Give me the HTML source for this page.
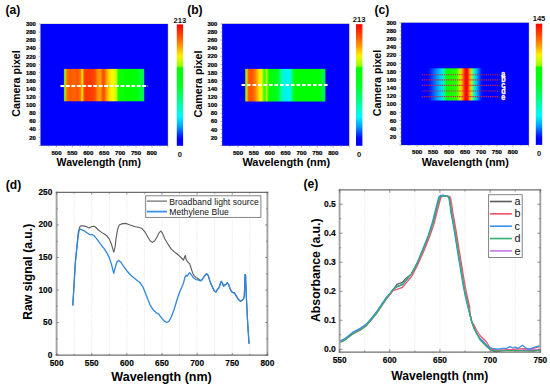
<!DOCTYPE html>
<html><head><meta charset="utf-8"><title>Figure</title><style>
html,body{margin:0;padding:0;background:#fff;width:550px;height:389px;overflow:hidden}
svg{display:block}
text{font-family:"Liberation Sans", sans-serif}
</style></head><body>
<svg width="550" height="389" viewBox="0 0 550 389">
<rect width="550" height="389" fill="#fff"/>
<defs><linearGradient id="cbg" x1="0" y1="0" x2="0" y2="1"><stop offset="0" stop-color="#ff0000"/><stop offset="0.1" stop-color="#ff5000"/><stop offset="0.18" stop-color="#ff9800"/><stop offset="0.256" stop-color="#fff000"/><stop offset="0.3" stop-color="#c8ff00"/><stop offset="0.345" stop-color="#90ff00"/><stop offset="0.36" stop-color="#00ff00"/><stop offset="0.5" stop-color="#00ff20"/><stop offset="0.58" stop-color="#00ff60"/><stop offset="0.67" stop-color="#00ffb0"/><stop offset="0.76" stop-color="#00f8ff"/><stop offset="0.84" stop-color="#00a0ff"/><stop offset="0.92" stop-color="#0020ff"/><stop offset="0.95" stop-color="#0000ff"/><stop offset="1" stop-color="#0000ff"/></linearGradient><linearGradient id="pa" x1="0" y1="0" x2="1" y2="0"><stop offset="0.0" stop-color="#40e800"/><stop offset="0.0162" stop-color="#a0f000"/><stop offset="0.0262" stop-color="#ff9a00"/><stop offset="0.0448" stop-color="#ff6c00"/><stop offset="0.076" stop-color="#ff5800"/><stop offset="0.1258" stop-color="#ff6400"/><stop offset="0.1756" stop-color="#ff5400"/><stop offset="0.2105" stop-color="#ff8000"/><stop offset="0.2204" stop-color="#ffc800"/><stop offset="0.2304" stop-color="#ffdc00"/><stop offset="0.2403" stop-color="#ffa000"/><stop offset="0.2503" stop-color="#ff4800"/><stop offset="0.2752" stop-color="#ff3400"/><stop offset="0.3499" stop-color="#ff3c00"/><stop offset="0.3873" stop-color="#ff4c00"/><stop offset="0.4184" stop-color="#ff8800"/><stop offset="0.4433" stop-color="#ffa000"/><stop offset="0.462" stop-color="#ff8c00"/><stop offset="0.4832" stop-color="#ff5400"/><stop offset="0.4994" stop-color="#ff4c00"/><stop offset="0.5243" stop-color="#ff9000"/><stop offset="0.5554" stop-color="#ffd000"/><stop offset="0.5866" stop-color="#fff000"/><stop offset="0.6177" stop-color="#f0ff00"/><stop offset="0.6526" stop-color="#c8ff00"/><stop offset="0.6638" stop-color="#80ff00"/><stop offset="0.6762" stop-color="#10ff00"/><stop offset="0.8232" stop-color="#00ff00"/><stop offset="0.9228" stop-color="#00ff10"/><stop offset="0.9601" stop-color="#00ff40"/><stop offset="1.0" stop-color="#00f060"/></linearGradient><linearGradient id="pb" x1="0" y1="0" x2="1" y2="0"><stop offset="0.0" stop-color="#40e000"/><stop offset="0.0149" stop-color="#a0f000"/><stop offset="0.0262" stop-color="#ffb000"/><stop offset="0.0423" stop-color="#ff6000"/><stop offset="0.0735" stop-color="#ff5000"/><stop offset="0.1108" stop-color="#ff6a00"/><stop offset="0.1357" stop-color="#ff9000"/><stop offset="0.1606" stop-color="#ffc800"/><stop offset="0.1856" stop-color="#ffee00"/><stop offset="0.2105" stop-color="#e0ff00"/><stop offset="0.2291" stop-color="#60ff00"/><stop offset="0.2478" stop-color="#30ff00"/><stop offset="0.2665" stop-color="#b0ff00"/><stop offset="0.2827" stop-color="#60ff00"/><stop offset="0.2976" stop-color="#00ff00"/><stop offset="0.4097" stop-color="#00ff20"/><stop offset="0.4408" stop-color="#00ff90"/><stop offset="0.472" stop-color="#00f8d0"/><stop offset="0.5093" stop-color="#00f0f0"/><stop offset="0.5529" stop-color="#00f4f8"/><stop offset="0.5741" stop-color="#00ffb0"/><stop offset="0.5965" stop-color="#00ff30"/><stop offset="0.6214" stop-color="#00ff00"/><stop offset="0.9203" stop-color="#00ff00"/><stop offset="0.9577" stop-color="#00ff30"/><stop offset="1.0" stop-color="#00f050"/></linearGradient><linearGradient id="pc" x1="0" y1="0" x2="1" y2="0"><stop offset="0.0" stop-color="#0000ff"/><stop offset="0.037" stop-color="#0018ff"/><stop offset="0.0926" stop-color="#0050ff"/><stop offset="0.1574" stop-color="#0090ff"/><stop offset="0.213" stop-color="#00c0ff"/><stop offset="0.2593" stop-color="#00e0f8"/><stop offset="0.287" stop-color="#00f0e0"/><stop offset="0.3056" stop-color="#00ff50"/><stop offset="0.3296" stop-color="#00ff00"/><stop offset="0.5463" stop-color="#30ff00"/><stop offset="0.5778" stop-color="#a0ff00"/><stop offset="0.6074" stop-color="#f8f000"/><stop offset="0.6333" stop-color="#ffa000"/><stop offset="0.6574" stop-color="#ff3000"/><stop offset="0.6815" stop-color="#ff0000"/><stop offset="0.75" stop-color="#ff0800"/><stop offset="0.7704" stop-color="#ff6000"/><stop offset="0.7889" stop-color="#ffd800"/><stop offset="0.8074" stop-color="#80ff00"/><stop offset="0.8333" stop-color="#00ff50"/><stop offset="0.8611" stop-color="#00f0e0"/><stop offset="0.8981" stop-color="#00c0ff"/><stop offset="0.9352" stop-color="#0070ff"/><stop offset="0.9722" stop-color="#0020ff"/><stop offset="1.0" stop-color="#0000ff"/></linearGradient><filter id="bl" x="-0.1" y="-0.2" width="1.2" height="1.4"><feGaussianBlur stdDeviation="0.45"/></filter><filter id="bl2" x="-0.1" y="-0.2" width="1.2" height="1.4"><feGaussianBlur stdDeviation="0.9 0.6"/></filter></defs>
<line x1="38.7" y1="145.6" x2="40.6" y2="145.6" stroke="#666" stroke-width="0.5"/>
<line x1="39.4" y1="141.55" x2="40.6" y2="141.55" stroke="#666" stroke-width="0.5"/>
<line x1="38.7" y1="137.49" x2="40.6" y2="137.49" stroke="#666" stroke-width="0.5"/>
<line x1="39.4" y1="133.44" x2="40.6" y2="133.44" stroke="#666" stroke-width="0.5"/>
<line x1="38.7" y1="129.39" x2="40.6" y2="129.39" stroke="#666" stroke-width="0.5"/>
<line x1="39.4" y1="125.33" x2="40.6" y2="125.33" stroke="#666" stroke-width="0.5"/>
<line x1="38.7" y1="121.28" x2="40.6" y2="121.28" stroke="#666" stroke-width="0.5"/>
<line x1="39.4" y1="117.23" x2="40.6" y2="117.23" stroke="#666" stroke-width="0.5"/>
<line x1="38.7" y1="113.17" x2="40.6" y2="113.17" stroke="#666" stroke-width="0.5"/>
<line x1="39.4" y1="109.12" x2="40.6" y2="109.12" stroke="#666" stroke-width="0.5"/>
<line x1="38.7" y1="105.07" x2="40.6" y2="105.07" stroke="#666" stroke-width="0.5"/>
<line x1="39.4" y1="101.01" x2="40.6" y2="101.01" stroke="#666" stroke-width="0.5"/>
<line x1="38.7" y1="96.96" x2="40.6" y2="96.96" stroke="#666" stroke-width="0.5"/>
<line x1="39.4" y1="92.91" x2="40.6" y2="92.91" stroke="#666" stroke-width="0.5"/>
<line x1="38.7" y1="88.85" x2="40.6" y2="88.85" stroke="#666" stroke-width="0.5"/>
<line x1="39.4" y1="84.8" x2="40.6" y2="84.8" stroke="#666" stroke-width="0.5"/>
<line x1="38.7" y1="80.75" x2="40.6" y2="80.75" stroke="#666" stroke-width="0.5"/>
<line x1="39.4" y1="76.69" x2="40.6" y2="76.69" stroke="#666" stroke-width="0.5"/>
<line x1="38.7" y1="72.64" x2="40.6" y2="72.64" stroke="#666" stroke-width="0.5"/>
<line x1="39.4" y1="68.59" x2="40.6" y2="68.59" stroke="#666" stroke-width="0.5"/>
<line x1="38.7" y1="64.53" x2="40.6" y2="64.53" stroke="#666" stroke-width="0.5"/>
<line x1="39.4" y1="60.48" x2="40.6" y2="60.48" stroke="#666" stroke-width="0.5"/>
<line x1="38.7" y1="56.43" x2="40.6" y2="56.43" stroke="#666" stroke-width="0.5"/>
<line x1="39.4" y1="52.37" x2="40.6" y2="52.37" stroke="#666" stroke-width="0.5"/>
<line x1="38.7" y1="48.32" x2="40.6" y2="48.32" stroke="#666" stroke-width="0.5"/>
<line x1="39.4" y1="44.27" x2="40.6" y2="44.27" stroke="#666" stroke-width="0.5"/>
<line x1="38.7" y1="40.21" x2="40.6" y2="40.21" stroke="#666" stroke-width="0.5"/>
<line x1="39.4" y1="36.16" x2="40.6" y2="36.16" stroke="#666" stroke-width="0.5"/>
<line x1="38.7" y1="32.11" x2="40.6" y2="32.11" stroke="#666" stroke-width="0.5"/>
<line x1="39.4" y1="28.05" x2="40.6" y2="28.05" stroke="#666" stroke-width="0.5"/>
<line x1="38.7" y1="24" x2="40.6" y2="24" stroke="#666" stroke-width="0.5"/>
<line x1="48.55" y1="145.6" x2="48.55" y2="146.8" stroke="#666" stroke-width="0.5"/>
<line x1="56.5" y1="145.6" x2="56.5" y2="147.5" stroke="#666" stroke-width="0.5"/>
<line x1="64.45" y1="145.6" x2="64.45" y2="146.8" stroke="#666" stroke-width="0.5"/>
<line x1="72.4" y1="145.6" x2="72.4" y2="147.5" stroke="#666" stroke-width="0.5"/>
<line x1="80.35" y1="145.6" x2="80.35" y2="146.8" stroke="#666" stroke-width="0.5"/>
<line x1="88.3" y1="145.6" x2="88.3" y2="147.5" stroke="#666" stroke-width="0.5"/>
<line x1="96.25" y1="145.6" x2="96.25" y2="146.8" stroke="#666" stroke-width="0.5"/>
<line x1="104.2" y1="145.6" x2="104.2" y2="147.5" stroke="#666" stroke-width="0.5"/>
<line x1="112.15" y1="145.6" x2="112.15" y2="146.8" stroke="#666" stroke-width="0.5"/>
<line x1="120.1" y1="145.6" x2="120.1" y2="147.5" stroke="#666" stroke-width="0.5"/>
<line x1="128.05" y1="145.6" x2="128.05" y2="146.8" stroke="#666" stroke-width="0.5"/>
<line x1="136" y1="145.6" x2="136" y2="147.5" stroke="#666" stroke-width="0.5"/>
<line x1="143.95" y1="145.6" x2="143.95" y2="146.8" stroke="#666" stroke-width="0.5"/>
<line x1="151.9" y1="145.6" x2="151.9" y2="147.5" stroke="#666" stroke-width="0.5"/>
<line x1="159.85" y1="145.6" x2="159.85" y2="146.8" stroke="#666" stroke-width="0.5"/>
<line x1="167.8" y1="145.6" x2="167.8" y2="147.5" stroke="#666" stroke-width="0.5"/>
<rect x="40.2" y="23.6" width="128" height="122.4" fill="#b9b9a8"/>
<rect x="40.6" y="24" width="127.2" height="121.6" fill="#0000fe"/>
<text x="35.8" y="139.59" text-anchor="end" font-size="5.9" font-weight="bold" fill="#000" stroke="#000" stroke-width="0.22">20</text>
<text x="35.8" y="131.49" text-anchor="end" font-size="5.9" font-weight="bold" fill="#000" stroke="#000" stroke-width="0.22">40</text>
<text x="35.8" y="123.38" text-anchor="end" font-size="5.9" font-weight="bold" fill="#000" stroke="#000" stroke-width="0.22">60</text>
<text x="35.8" y="115.27" text-anchor="end" font-size="5.9" font-weight="bold" fill="#000" stroke="#000" stroke-width="0.22">80</text>
<text x="35.8" y="107.17" text-anchor="end" font-size="5.9" font-weight="bold" fill="#000" stroke="#000" stroke-width="0.22">100</text>
<text x="35.8" y="99.06" text-anchor="end" font-size="5.9" font-weight="bold" fill="#000" stroke="#000" stroke-width="0.22">120</text>
<text x="35.8" y="90.95" text-anchor="end" font-size="5.9" font-weight="bold" fill="#000" stroke="#000" stroke-width="0.22">140</text>
<text x="35.8" y="82.85" text-anchor="end" font-size="5.9" font-weight="bold" fill="#000" stroke="#000" stroke-width="0.22">160</text>
<text x="35.8" y="74.74" text-anchor="end" font-size="5.9" font-weight="bold" fill="#000" stroke="#000" stroke-width="0.22">180</text>
<text x="35.8" y="66.63" text-anchor="end" font-size="5.9" font-weight="bold" fill="#000" stroke="#000" stroke-width="0.22">200</text>
<text x="35.8" y="58.53" text-anchor="end" font-size="5.9" font-weight="bold" fill="#000" stroke="#000" stroke-width="0.22">220</text>
<text x="35.8" y="50.42" text-anchor="end" font-size="5.9" font-weight="bold" fill="#000" stroke="#000" stroke-width="0.22">240</text>
<text x="35.8" y="42.31" text-anchor="end" font-size="5.9" font-weight="bold" fill="#000" stroke="#000" stroke-width="0.22">260</text>
<text x="35.8" y="34.21" text-anchor="end" font-size="5.9" font-weight="bold" fill="#000" stroke="#000" stroke-width="0.22">280</text>
<text x="35.8" y="26.1" text-anchor="end" font-size="5.9" font-weight="bold" fill="#000" stroke="#000" stroke-width="0.22">300</text>
<text x="56.5" y="154.7" text-anchor="middle" font-size="6.1" font-weight="bold" fill="#000" stroke="#000" stroke-width="0.22">500</text>
<text x="72.4" y="154.7" text-anchor="middle" font-size="6.1" font-weight="bold" fill="#000" stroke="#000" stroke-width="0.22">550</text>
<text x="88.3" y="154.7" text-anchor="middle" font-size="6.1" font-weight="bold" fill="#000" stroke="#000" stroke-width="0.22">600</text>
<text x="104.2" y="154.7" text-anchor="middle" font-size="6.1" font-weight="bold" fill="#000" stroke="#000" stroke-width="0.22">650</text>
<text x="120.1" y="154.7" text-anchor="middle" font-size="6.1" font-weight="bold" fill="#000" stroke="#000" stroke-width="0.22">700</text>
<text x="136" y="154.7" text-anchor="middle" font-size="6.1" font-weight="bold" fill="#000" stroke="#000" stroke-width="0.22">750</text>
<text x="151.9" y="154.7" text-anchor="middle" font-size="6.1" font-weight="bold" fill="#000" stroke="#000" stroke-width="0.22">800</text>
<text x="56.6" y="165.7" font-size="10.2" font-weight="bold" fill="#000" textLength="84.4" lengthAdjust="spacingAndGlyphs">Wavelength (nm)</text>
<text transform="translate(20.4,83.5) rotate(-90)" text-anchor="middle" font-size="10.7" font-weight="bold" fill="#000" textLength="66.5" lengthAdjust="spacingAndGlyphs">Camera pixel</text>
<text x="5.6" y="14" font-size="12.1" font-weight="bold" fill="#000">(a)</text>
<rect x="176.8" y="24.4" width="6.3" height="121.4" fill="url(#cbg)"/>
<text x="179.95" y="22.6" text-anchor="middle" font-size="7.6" font-weight="bold" fill="#111">213</text>
<text x="179.95" y="157" text-anchor="middle" font-size="7.6" font-weight="bold" fill="#111">0</text>
<line x1="220.3" y1="145.7" x2="222.2" y2="145.7" stroke="#666" stroke-width="0.5"/>
<line x1="221" y1="141.64" x2="222.2" y2="141.64" stroke="#666" stroke-width="0.5"/>
<line x1="220.3" y1="137.58" x2="222.2" y2="137.58" stroke="#666" stroke-width="0.5"/>
<line x1="221" y1="133.52" x2="222.2" y2="133.52" stroke="#666" stroke-width="0.5"/>
<line x1="220.3" y1="129.46" x2="222.2" y2="129.46" stroke="#666" stroke-width="0.5"/>
<line x1="221" y1="125.4" x2="222.2" y2="125.4" stroke="#666" stroke-width="0.5"/>
<line x1="220.3" y1="121.34" x2="222.2" y2="121.34" stroke="#666" stroke-width="0.5"/>
<line x1="221" y1="117.28" x2="222.2" y2="117.28" stroke="#666" stroke-width="0.5"/>
<line x1="220.3" y1="113.22" x2="222.2" y2="113.22" stroke="#666" stroke-width="0.5"/>
<line x1="221" y1="109.16" x2="222.2" y2="109.16" stroke="#666" stroke-width="0.5"/>
<line x1="220.3" y1="105.1" x2="222.2" y2="105.1" stroke="#666" stroke-width="0.5"/>
<line x1="221" y1="101.04" x2="222.2" y2="101.04" stroke="#666" stroke-width="0.5"/>
<line x1="220.3" y1="96.98" x2="222.2" y2="96.98" stroke="#666" stroke-width="0.5"/>
<line x1="221" y1="92.92" x2="222.2" y2="92.92" stroke="#666" stroke-width="0.5"/>
<line x1="220.3" y1="88.86" x2="222.2" y2="88.86" stroke="#666" stroke-width="0.5"/>
<line x1="221" y1="84.8" x2="222.2" y2="84.8" stroke="#666" stroke-width="0.5"/>
<line x1="220.3" y1="80.74" x2="222.2" y2="80.74" stroke="#666" stroke-width="0.5"/>
<line x1="221" y1="76.68" x2="222.2" y2="76.68" stroke="#666" stroke-width="0.5"/>
<line x1="220.3" y1="72.62" x2="222.2" y2="72.62" stroke="#666" stroke-width="0.5"/>
<line x1="221" y1="68.56" x2="222.2" y2="68.56" stroke="#666" stroke-width="0.5"/>
<line x1="220.3" y1="64.5" x2="222.2" y2="64.5" stroke="#666" stroke-width="0.5"/>
<line x1="221" y1="60.44" x2="222.2" y2="60.44" stroke="#666" stroke-width="0.5"/>
<line x1="220.3" y1="56.38" x2="222.2" y2="56.38" stroke="#666" stroke-width="0.5"/>
<line x1="221" y1="52.32" x2="222.2" y2="52.32" stroke="#666" stroke-width="0.5"/>
<line x1="220.3" y1="48.26" x2="222.2" y2="48.26" stroke="#666" stroke-width="0.5"/>
<line x1="221" y1="44.2" x2="222.2" y2="44.2" stroke="#666" stroke-width="0.5"/>
<line x1="220.3" y1="40.14" x2="222.2" y2="40.14" stroke="#666" stroke-width="0.5"/>
<line x1="221" y1="36.08" x2="222.2" y2="36.08" stroke="#666" stroke-width="0.5"/>
<line x1="220.3" y1="32.02" x2="222.2" y2="32.02" stroke="#666" stroke-width="0.5"/>
<line x1="221" y1="27.96" x2="222.2" y2="27.96" stroke="#666" stroke-width="0.5"/>
<line x1="220.3" y1="23.9" x2="222.2" y2="23.9" stroke="#666" stroke-width="0.5"/>
<line x1="230.13" y1="145.7" x2="230.13" y2="146.9" stroke="#666" stroke-width="0.5"/>
<line x1="238.06" y1="145.7" x2="238.06" y2="147.6" stroke="#666" stroke-width="0.5"/>
<line x1="245.99" y1="145.7" x2="245.99" y2="146.9" stroke="#666" stroke-width="0.5"/>
<line x1="253.93" y1="145.7" x2="253.93" y2="147.6" stroke="#666" stroke-width="0.5"/>
<line x1="261.86" y1="145.7" x2="261.86" y2="146.9" stroke="#666" stroke-width="0.5"/>
<line x1="269.79" y1="145.7" x2="269.79" y2="147.6" stroke="#666" stroke-width="0.5"/>
<line x1="277.72" y1="145.7" x2="277.72" y2="146.9" stroke="#666" stroke-width="0.5"/>
<line x1="285.65" y1="145.7" x2="285.65" y2="147.6" stroke="#666" stroke-width="0.5"/>
<line x1="293.58" y1="145.7" x2="293.58" y2="146.9" stroke="#666" stroke-width="0.5"/>
<line x1="301.51" y1="145.7" x2="301.51" y2="147.6" stroke="#666" stroke-width="0.5"/>
<line x1="309.44" y1="145.7" x2="309.44" y2="146.9" stroke="#666" stroke-width="0.5"/>
<line x1="317.38" y1="145.7" x2="317.38" y2="147.6" stroke="#666" stroke-width="0.5"/>
<line x1="325.31" y1="145.7" x2="325.31" y2="146.9" stroke="#666" stroke-width="0.5"/>
<line x1="333.24" y1="145.7" x2="333.24" y2="147.6" stroke="#666" stroke-width="0.5"/>
<line x1="341.17" y1="145.7" x2="341.17" y2="146.9" stroke="#666" stroke-width="0.5"/>
<line x1="349.1" y1="145.7" x2="349.1" y2="147.6" stroke="#666" stroke-width="0.5"/>
<rect x="221.8" y="23.5" width="127.7" height="122.6" fill="#b9b9a8"/>
<rect x="222.2" y="23.9" width="126.9" height="121.8" fill="#0000fe"/>
<text x="217.4" y="139.68" text-anchor="end" font-size="5.9" font-weight="bold" fill="#000" stroke="#000" stroke-width="0.22">20</text>
<text x="217.4" y="131.56" text-anchor="end" font-size="5.9" font-weight="bold" fill="#000" stroke="#000" stroke-width="0.22">40</text>
<text x="217.4" y="123.44" text-anchor="end" font-size="5.9" font-weight="bold" fill="#000" stroke="#000" stroke-width="0.22">60</text>
<text x="217.4" y="115.32" text-anchor="end" font-size="5.9" font-weight="bold" fill="#000" stroke="#000" stroke-width="0.22">80</text>
<text x="217.4" y="107.2" text-anchor="end" font-size="5.9" font-weight="bold" fill="#000" stroke="#000" stroke-width="0.22">100</text>
<text x="217.4" y="99.08" text-anchor="end" font-size="5.9" font-weight="bold" fill="#000" stroke="#000" stroke-width="0.22">120</text>
<text x="217.4" y="90.96" text-anchor="end" font-size="5.9" font-weight="bold" fill="#000" stroke="#000" stroke-width="0.22">140</text>
<text x="217.4" y="82.84" text-anchor="end" font-size="5.9" font-weight="bold" fill="#000" stroke="#000" stroke-width="0.22">160</text>
<text x="217.4" y="74.72" text-anchor="end" font-size="5.9" font-weight="bold" fill="#000" stroke="#000" stroke-width="0.22">180</text>
<text x="217.4" y="66.6" text-anchor="end" font-size="5.9" font-weight="bold" fill="#000" stroke="#000" stroke-width="0.22">200</text>
<text x="217.4" y="58.48" text-anchor="end" font-size="5.9" font-weight="bold" fill="#000" stroke="#000" stroke-width="0.22">220</text>
<text x="217.4" y="50.36" text-anchor="end" font-size="5.9" font-weight="bold" fill="#000" stroke="#000" stroke-width="0.22">240</text>
<text x="217.4" y="42.24" text-anchor="end" font-size="5.9" font-weight="bold" fill="#000" stroke="#000" stroke-width="0.22">260</text>
<text x="217.4" y="34.12" text-anchor="end" font-size="5.9" font-weight="bold" fill="#000" stroke="#000" stroke-width="0.22">280</text>
<text x="217.4" y="26" text-anchor="end" font-size="5.9" font-weight="bold" fill="#000" stroke="#000" stroke-width="0.22">300</text>
<text x="238.06" y="154.8" text-anchor="middle" font-size="6.1" font-weight="bold" fill="#000" stroke="#000" stroke-width="0.22">500</text>
<text x="253.93" y="154.8" text-anchor="middle" font-size="6.1" font-weight="bold" fill="#000" stroke="#000" stroke-width="0.22">550</text>
<text x="269.79" y="154.8" text-anchor="middle" font-size="6.1" font-weight="bold" fill="#000" stroke="#000" stroke-width="0.22">600</text>
<text x="285.65" y="154.8" text-anchor="middle" font-size="6.1" font-weight="bold" fill="#000" stroke="#000" stroke-width="0.22">650</text>
<text x="301.51" y="154.8" text-anchor="middle" font-size="6.1" font-weight="bold" fill="#000" stroke="#000" stroke-width="0.22">700</text>
<text x="317.38" y="154.8" text-anchor="middle" font-size="6.1" font-weight="bold" fill="#000" stroke="#000" stroke-width="0.22">750</text>
<text x="333.24" y="154.8" text-anchor="middle" font-size="6.1" font-weight="bold" fill="#000" stroke="#000" stroke-width="0.22">800</text>
<text x="242.4" y="166.4" font-size="10.2" font-weight="bold" fill="#000" textLength="87.8" lengthAdjust="spacingAndGlyphs">Wavelength (nm)</text>
<text transform="translate(201.6,84) rotate(-90)" text-anchor="middle" font-size="10.7" font-weight="bold" fill="#000" textLength="67.0" lengthAdjust="spacingAndGlyphs">Camera pixel</text>
<text x="187.2" y="13.9" font-size="12.1" font-weight="bold" fill="#000">(b)</text>
<rect x="356" y="24.2" width="6.4" height="121.6" fill="url(#cbg)"/>
<text x="359.2" y="22" text-anchor="middle" font-size="7.6" font-weight="bold" fill="#111">213</text>
<text x="359.2" y="157" text-anchor="middle" font-size="7.6" font-weight="bold" fill="#111">0</text>
<line x1="399.3" y1="145" x2="401.2" y2="145" stroke="#666" stroke-width="0.5"/>
<line x1="400" y1="140.93" x2="401.2" y2="140.93" stroke="#666" stroke-width="0.5"/>
<line x1="399.3" y1="136.85" x2="401.2" y2="136.85" stroke="#666" stroke-width="0.5"/>
<line x1="400" y1="132.78" x2="401.2" y2="132.78" stroke="#666" stroke-width="0.5"/>
<line x1="399.3" y1="128.71" x2="401.2" y2="128.71" stroke="#666" stroke-width="0.5"/>
<line x1="400" y1="124.63" x2="401.2" y2="124.63" stroke="#666" stroke-width="0.5"/>
<line x1="399.3" y1="120.56" x2="401.2" y2="120.56" stroke="#666" stroke-width="0.5"/>
<line x1="400" y1="116.49" x2="401.2" y2="116.49" stroke="#666" stroke-width="0.5"/>
<line x1="399.3" y1="112.41" x2="401.2" y2="112.41" stroke="#666" stroke-width="0.5"/>
<line x1="400" y1="108.34" x2="401.2" y2="108.34" stroke="#666" stroke-width="0.5"/>
<line x1="399.3" y1="104.27" x2="401.2" y2="104.27" stroke="#666" stroke-width="0.5"/>
<line x1="400" y1="100.19" x2="401.2" y2="100.19" stroke="#666" stroke-width="0.5"/>
<line x1="399.3" y1="96.12" x2="401.2" y2="96.12" stroke="#666" stroke-width="0.5"/>
<line x1="400" y1="92.05" x2="401.2" y2="92.05" stroke="#666" stroke-width="0.5"/>
<line x1="399.3" y1="87.97" x2="401.2" y2="87.97" stroke="#666" stroke-width="0.5"/>
<line x1="400" y1="83.9" x2="401.2" y2="83.9" stroke="#666" stroke-width="0.5"/>
<line x1="399.3" y1="79.83" x2="401.2" y2="79.83" stroke="#666" stroke-width="0.5"/>
<line x1="400" y1="75.75" x2="401.2" y2="75.75" stroke="#666" stroke-width="0.5"/>
<line x1="399.3" y1="71.68" x2="401.2" y2="71.68" stroke="#666" stroke-width="0.5"/>
<line x1="400" y1="67.61" x2="401.2" y2="67.61" stroke="#666" stroke-width="0.5"/>
<line x1="399.3" y1="63.53" x2="401.2" y2="63.53" stroke="#666" stroke-width="0.5"/>
<line x1="400" y1="59.46" x2="401.2" y2="59.46" stroke="#666" stroke-width="0.5"/>
<line x1="399.3" y1="55.39" x2="401.2" y2="55.39" stroke="#666" stroke-width="0.5"/>
<line x1="400" y1="51.31" x2="401.2" y2="51.31" stroke="#666" stroke-width="0.5"/>
<line x1="399.3" y1="47.24" x2="401.2" y2="47.24" stroke="#666" stroke-width="0.5"/>
<line x1="400" y1="43.17" x2="401.2" y2="43.17" stroke="#666" stroke-width="0.5"/>
<line x1="399.3" y1="39.09" x2="401.2" y2="39.09" stroke="#666" stroke-width="0.5"/>
<line x1="400" y1="35.02" x2="401.2" y2="35.02" stroke="#666" stroke-width="0.5"/>
<line x1="399.3" y1="30.95" x2="401.2" y2="30.95" stroke="#666" stroke-width="0.5"/>
<line x1="400" y1="26.87" x2="401.2" y2="26.87" stroke="#666" stroke-width="0.5"/>
<line x1="399.3" y1="22.8" x2="401.2" y2="22.8" stroke="#666" stroke-width="0.5"/>
<line x1="409.18" y1="145" x2="409.18" y2="146.2" stroke="#666" stroke-width="0.5"/>
<line x1="417.15" y1="145" x2="417.15" y2="146.9" stroke="#666" stroke-width="0.5"/>
<line x1="425.12" y1="145" x2="425.12" y2="146.2" stroke="#666" stroke-width="0.5"/>
<line x1="433.1" y1="145" x2="433.1" y2="146.9" stroke="#666" stroke-width="0.5"/>
<line x1="441.07" y1="145" x2="441.07" y2="146.2" stroke="#666" stroke-width="0.5"/>
<line x1="449.05" y1="145" x2="449.05" y2="146.9" stroke="#666" stroke-width="0.5"/>
<line x1="457.02" y1="145" x2="457.02" y2="146.2" stroke="#666" stroke-width="0.5"/>
<line x1="465" y1="145" x2="465" y2="146.9" stroke="#666" stroke-width="0.5"/>
<line x1="472.97" y1="145" x2="472.97" y2="146.2" stroke="#666" stroke-width="0.5"/>
<line x1="480.95" y1="145" x2="480.95" y2="146.9" stroke="#666" stroke-width="0.5"/>
<line x1="488.92" y1="145" x2="488.92" y2="146.2" stroke="#666" stroke-width="0.5"/>
<line x1="496.9" y1="145" x2="496.9" y2="146.9" stroke="#666" stroke-width="0.5"/>
<line x1="504.87" y1="145" x2="504.87" y2="146.2" stroke="#666" stroke-width="0.5"/>
<line x1="512.85" y1="145" x2="512.85" y2="146.9" stroke="#666" stroke-width="0.5"/>
<line x1="520.82" y1="145" x2="520.82" y2="146.2" stroke="#666" stroke-width="0.5"/>
<line x1="528.8" y1="145" x2="528.8" y2="146.9" stroke="#666" stroke-width="0.5"/>
<rect x="400.8" y="22.4" width="128.4" height="123" fill="#b9b9a8"/>
<rect x="401.2" y="22.8" width="127.6" height="122.2" fill="#0000fe"/>
<text x="396.4" y="138.95" text-anchor="end" font-size="5.9" font-weight="bold" fill="#000" stroke="#000" stroke-width="0.22">20</text>
<text x="396.4" y="130.81" text-anchor="end" font-size="5.9" font-weight="bold" fill="#000" stroke="#000" stroke-width="0.22">40</text>
<text x="396.4" y="122.66" text-anchor="end" font-size="5.9" font-weight="bold" fill="#000" stroke="#000" stroke-width="0.22">60</text>
<text x="396.4" y="114.51" text-anchor="end" font-size="5.9" font-weight="bold" fill="#000" stroke="#000" stroke-width="0.22">80</text>
<text x="396.4" y="106.37" text-anchor="end" font-size="5.9" font-weight="bold" fill="#000" stroke="#000" stroke-width="0.22">100</text>
<text x="396.4" y="98.22" text-anchor="end" font-size="5.9" font-weight="bold" fill="#000" stroke="#000" stroke-width="0.22">120</text>
<text x="396.4" y="90.07" text-anchor="end" font-size="5.9" font-weight="bold" fill="#000" stroke="#000" stroke-width="0.22">140</text>
<text x="396.4" y="81.93" text-anchor="end" font-size="5.9" font-weight="bold" fill="#000" stroke="#000" stroke-width="0.22">160</text>
<text x="396.4" y="73.78" text-anchor="end" font-size="5.9" font-weight="bold" fill="#000" stroke="#000" stroke-width="0.22">180</text>
<text x="396.4" y="65.63" text-anchor="end" font-size="5.9" font-weight="bold" fill="#000" stroke="#000" stroke-width="0.22">200</text>
<text x="396.4" y="57.49" text-anchor="end" font-size="5.9" font-weight="bold" fill="#000" stroke="#000" stroke-width="0.22">220</text>
<text x="396.4" y="49.34" text-anchor="end" font-size="5.9" font-weight="bold" fill="#000" stroke="#000" stroke-width="0.22">240</text>
<text x="396.4" y="41.19" text-anchor="end" font-size="5.9" font-weight="bold" fill="#000" stroke="#000" stroke-width="0.22">260</text>
<text x="396.4" y="33.05" text-anchor="end" font-size="5.9" font-weight="bold" fill="#000" stroke="#000" stroke-width="0.22">280</text>
<text x="396.4" y="24.9" text-anchor="end" font-size="5.9" font-weight="bold" fill="#000" stroke="#000" stroke-width="0.22">300</text>
<text x="417.15" y="154.3" text-anchor="middle" font-size="6.1" font-weight="bold" fill="#000" stroke="#000" stroke-width="0.22">500</text>
<text x="433.1" y="154.3" text-anchor="middle" font-size="6.1" font-weight="bold" fill="#000" stroke="#000" stroke-width="0.22">550</text>
<text x="449.05" y="154.3" text-anchor="middle" font-size="6.1" font-weight="bold" fill="#000" stroke="#000" stroke-width="0.22">600</text>
<text x="465" y="154.3" text-anchor="middle" font-size="6.1" font-weight="bold" fill="#000" stroke="#000" stroke-width="0.22">650</text>
<text x="480.95" y="154.3" text-anchor="middle" font-size="6.1" font-weight="bold" fill="#000" stroke="#000" stroke-width="0.22">700</text>
<text x="496.9" y="154.3" text-anchor="middle" font-size="6.1" font-weight="bold" fill="#000" stroke="#000" stroke-width="0.22">750</text>
<text x="512.85" y="154.3" text-anchor="middle" font-size="6.1" font-weight="bold" fill="#000" stroke="#000" stroke-width="0.22">800</text>
<text x="421.7" y="166" font-size="10.2" font-weight="bold" fill="#000" textLength="87.2" lengthAdjust="spacingAndGlyphs">Wavelength (nm)</text>
<text transform="translate(381.2,83) rotate(-90)" text-anchor="middle" font-size="10.7" font-weight="bold" fill="#000" textLength="66.6" lengthAdjust="spacingAndGlyphs">Camera pixel</text>
<text x="374.6" y="13.9" font-size="12.1" font-weight="bold" fill="#000">(c)</text>
<rect x="535.8" y="23.7" width="6.4" height="121.2" fill="url(#cbg)"/>
<text x="539" y="21.2" text-anchor="middle" font-size="7.6" font-weight="bold" fill="#111">145</text>
<text x="539" y="156.3" text-anchor="middle" font-size="7.6" font-weight="bold" fill="#111">0</text>
<rect x="63.9" y="68.9" width="80.3" height="32.4" fill="url(#pa)" filter="url(#bl)"/>
<rect x="245.1" y="68.9" width="80.3" height="32.6" fill="url(#pb)" filter="url(#bl)"/>
<rect x="428" y="68.3" width="54" height="32.2" fill="url(#pc)" filter="url(#bl2)"/>
<line x1="60.5" y1="86" x2="148" y2="86" stroke="#fff" stroke-width="2" stroke-dasharray="3.9 1.55"/>
<line x1="241.5" y1="85" x2="329" y2="85" stroke="#fff" stroke-width="2" stroke-dasharray="3.6 1.9"/>
<line x1="421.8" y1="74.8" x2="499.5" y2="74.8" stroke="#d42040" stroke-width="1.1" stroke-dasharray="1.4 0.8" opacity="0.9"/>
<line x1="421.8" y1="79.9" x2="499.5" y2="79.9" stroke="#d42040" stroke-width="1.1" stroke-dasharray="1.4 0.8" opacity="0.9"/>
<line x1="421.8" y1="85.4" x2="499.5" y2="85.4" stroke="#d42040" stroke-width="1.1" stroke-dasharray="1.4 0.8" opacity="0.9"/>
<line x1="421.8" y1="91.0" x2="499.5" y2="91.0" stroke="#d42040" stroke-width="1.1" stroke-dasharray="1.4 0.8" opacity="0.9"/>
<line x1="421.8" y1="96.6" x2="499.5" y2="96.6" stroke="#d42040" stroke-width="1.1" stroke-dasharray="1.4 0.8" opacity="0.9"/>
<text transform="translate(501.2,76.6) scale(0.8,1)" font-size="9" font-weight="bold" fill="#fff" stroke="#fff" stroke-width="0.35">a</text>
<text transform="translate(501.2,81.6) scale(0.8,1)" font-size="9" font-weight="bold" fill="#fff" stroke="#fff" stroke-width="0.35">b</text>
<text transform="translate(501.2,88.2) scale(0.8,1)" font-size="9" font-weight="bold" fill="#fff" stroke="#fff" stroke-width="0.35">c</text>
<text transform="translate(501.2,93.8) scale(0.8,1)" font-size="9" font-weight="bold" fill="#fff" stroke="#fff" stroke-width="0.35">d</text>
<text transform="translate(501.2,100) scale(0.8,1)" font-size="9" font-weight="bold" fill="#fff" stroke="#fff" stroke-width="0.35">e</text>
<line x1="74.17" y1="192.4" x2="74.17" y2="355.1" stroke="#d4d4d4" stroke-width="0.6" stroke-dasharray="0.8 1.0"/>
<line x1="91.73" y1="192.4" x2="91.73" y2="355.1" stroke="#d4d4d4" stroke-width="0.6" stroke-dasharray="0.8 1.0"/>
<line x1="109.3" y1="192.4" x2="109.3" y2="355.1" stroke="#d4d4d4" stroke-width="0.6" stroke-dasharray="0.8 1.0"/>
<line x1="126.87" y1="192.4" x2="126.87" y2="355.1" stroke="#d4d4d4" stroke-width="0.6" stroke-dasharray="0.8 1.0"/>
<line x1="144.43" y1="192.4" x2="144.43" y2="355.1" stroke="#d4d4d4" stroke-width="0.6" stroke-dasharray="0.8 1.0"/>
<line x1="162" y1="192.4" x2="162" y2="355.1" stroke="#d4d4d4" stroke-width="0.6" stroke-dasharray="0.8 1.0"/>
<line x1="179.57" y1="192.4" x2="179.57" y2="355.1" stroke="#d4d4d4" stroke-width="0.6" stroke-dasharray="0.8 1.0"/>
<line x1="197.13" y1="192.4" x2="197.13" y2="355.1" stroke="#d4d4d4" stroke-width="0.6" stroke-dasharray="0.8 1.0"/>
<line x1="214.7" y1="192.4" x2="214.7" y2="355.1" stroke="#d4d4d4" stroke-width="0.6" stroke-dasharray="0.8 1.0"/>
<line x1="232.27" y1="192.4" x2="232.27" y2="355.1" stroke="#d4d4d4" stroke-width="0.6" stroke-dasharray="0.8 1.0"/>
<line x1="249.83" y1="192.4" x2="249.83" y2="355.1" stroke="#d4d4d4" stroke-width="0.6" stroke-dasharray="0.8 1.0"/>
<polyline points="72.8,305.5 75.4,262 77,245 78.3,232 79.9,226.6 81.4,225.8 84.5,226.1 86.8,226.7 89.1,228.1 91.5,226.7 93.8,226.3 95.3,227 98.4,230 101.5,232.4 104.6,234.3 106.9,235.8 109.2,238.9 111.5,244.3 113,249.7 113.8,252 115,247.4 116.1,238.1 117.7,228.9 119.2,225 121.5,223.9 123.1,223.6 126.2,223.4 129.3,224.7 132.3,225.7 135.4,226.7 138.5,227.3 141.6,228.2 144.7,231.6 147.8,237 150.1,240.8 152.4,242.4 154.7,240.8 157,237 159.3,232.4 160.9,231.1 162.4,233.1 164.7,238.5 167.8,243.9 170.9,248.6 174,251.6 177.1,254 179.6,256.2 181.9,258.5 183.5,260.1 184.6,257 185.3,255.4 186.1,259.3 187.3,261.6 189.7,263.9 191.2,268.5 192.7,273.2 194.3,275.9 196.6,277.8 198.9,279.3 200.5,280.4 202,279.8 204.3,276.2 206.6,273.6 208.2,275.5 209.7,280.4 212,286.3 214.3,290.9 215.9,292.1 217.4,289.4 219,287.8 220.5,283.2 221.3,281.3 222.5,283.2 223.6,286.3 225.1,284.7 226,284.5 227.3,282.7 228.6,284.5 230.1,288.7 231.7,291.7 233.2,292.8 234.3,292.6 235.3,294.3 236.8,296.9 238.4,299.4 240.4,301.2 242,300.5 243.5,298.9 244.3,295.8 244.7,285.6 245.1,274.3 245.6,275.3 245.9,285.6 246.3,295.8 247.5,320 249,343.8" fill="none" stroke="#5a5a5a" stroke-width="1.1" stroke-linejoin="round"/>
<polyline points="72.8,305.5 75.4,262 76.8,248.9 78,238.1 79.1,230.4 80.2,229.2 81.4,229.7 84.5,230.9 87.6,233.2 89.9,234.6 92.2,234.7 93.8,235.5 96.1,238.1 98.4,241.2 100.7,244.3 103.8,248.2 106.9,252.8 109.2,257.4 111.5,264.4 113,270.5 113.8,273.3 115,268.2 116.9,262 118.8,260.5 120.8,262 123.6,266.3 127.2,271.2 130.8,275.3 135.3,278.9 139.8,282.5 142.5,286.1 145.2,292.4 147.9,299.6 150.6,305.9 153.3,310.1 156,312.6 158.7,314.1 161.4,317.7 164.1,320.9 166.8,322.5 169,321.3 171.4,316.8 174.1,309.5 176.8,300.5 178.9,294 181.2,288.6 183.5,283.2 185,277 186.1,275.2 187.3,276.2 188.9,273.2 189.7,272.7 191.2,274.7 193.5,277.8 195.8,279.6 198.1,279.8 200.5,280.9 202,279.8 204.3,276.2 206.6,273.6 208.2,275.5 209.7,280.4 212,286.3 214.3,290.9 215.9,292.1 217.4,289.4 219,287.8 220.5,283.2 221.3,281.3 222.5,283.2 223.6,286.3 225.1,284.7 226,284.5 227.3,282.7 228.6,284.5 230.1,288.7 231.7,291.7 233.2,292.8 234.3,292.6 235.3,294.3 236.8,296.9 238.4,299.4 240.4,301.2 242,300.5 243.5,298.9 244.3,295.8 244.7,285.6 245.1,274.3 245.6,275.3 245.9,285.6 246.3,295.8 247.5,320 249,343.8" fill="none" stroke="#2f86e0" stroke-width="1.3" stroke-linejoin="round"/>
<line x1="56.6" y1="191.8" x2="56.6" y2="355.7" stroke="#a2a2a2" stroke-width="1.9"/>
<line x1="267.4" y1="191.8" x2="267.4" y2="355.7" stroke="#a2a2a2" stroke-width="1.9"/>
<line x1="55.7" y1="192.4" x2="268.3" y2="192.4" stroke="#6e6e6e" stroke-width="1.2"/>
<line x1="55.7" y1="355.1" x2="268.3" y2="355.1" stroke="#6e6e6e" stroke-width="1.2"/>
<line x1="56.6" y1="355.1" x2="58.8" y2="355.1" stroke="#666" stroke-width="0.7"/>
<line x1="267.4" y1="355.1" x2="265.2" y2="355.1" stroke="#666" stroke-width="0.7"/>
<line x1="56.6" y1="338.83" x2="57.9" y2="338.83" stroke="#666" stroke-width="0.7"/>
<line x1="267.4" y1="338.83" x2="266.1" y2="338.83" stroke="#666" stroke-width="0.7"/>
<line x1="56.6" y1="322.56" x2="58.8" y2="322.56" stroke="#666" stroke-width="0.7"/>
<line x1="267.4" y1="322.56" x2="265.2" y2="322.56" stroke="#666" stroke-width="0.7"/>
<line x1="56.6" y1="306.29" x2="57.9" y2="306.29" stroke="#666" stroke-width="0.7"/>
<line x1="267.4" y1="306.29" x2="266.1" y2="306.29" stroke="#666" stroke-width="0.7"/>
<line x1="56.6" y1="290.02" x2="58.8" y2="290.02" stroke="#666" stroke-width="0.7"/>
<line x1="267.4" y1="290.02" x2="265.2" y2="290.02" stroke="#666" stroke-width="0.7"/>
<line x1="56.6" y1="273.75" x2="57.9" y2="273.75" stroke="#666" stroke-width="0.7"/>
<line x1="267.4" y1="273.75" x2="266.1" y2="273.75" stroke="#666" stroke-width="0.7"/>
<line x1="56.6" y1="257.48" x2="58.8" y2="257.48" stroke="#666" stroke-width="0.7"/>
<line x1="267.4" y1="257.48" x2="265.2" y2="257.48" stroke="#666" stroke-width="0.7"/>
<line x1="56.6" y1="241.21" x2="57.9" y2="241.21" stroke="#666" stroke-width="0.7"/>
<line x1="267.4" y1="241.21" x2="266.1" y2="241.21" stroke="#666" stroke-width="0.7"/>
<line x1="56.6" y1="224.94" x2="58.8" y2="224.94" stroke="#666" stroke-width="0.7"/>
<line x1="267.4" y1="224.94" x2="265.2" y2="224.94" stroke="#666" stroke-width="0.7"/>
<line x1="56.6" y1="208.67" x2="57.9" y2="208.67" stroke="#666" stroke-width="0.7"/>
<line x1="267.4" y1="208.67" x2="266.1" y2="208.67" stroke="#666" stroke-width="0.7"/>
<line x1="56.6" y1="192.4" x2="58.8" y2="192.4" stroke="#666" stroke-width="0.7"/>
<line x1="267.4" y1="192.4" x2="265.2" y2="192.4" stroke="#666" stroke-width="0.7"/>
<line x1="56.6" y1="355.1" x2="56.6" y2="352.9" stroke="#666" stroke-width="0.7"/>
<line x1="56.6" y1="192.4" x2="56.6" y2="194.6" stroke="#666" stroke-width="0.7"/>
<line x1="74.17" y1="355.1" x2="74.17" y2="353.8" stroke="#666" stroke-width="0.7"/>
<line x1="74.17" y1="192.4" x2="74.17" y2="193.7" stroke="#666" stroke-width="0.7"/>
<line x1="91.73" y1="355.1" x2="91.73" y2="352.9" stroke="#666" stroke-width="0.7"/>
<line x1="91.73" y1="192.4" x2="91.73" y2="194.6" stroke="#666" stroke-width="0.7"/>
<line x1="109.3" y1="355.1" x2="109.3" y2="353.8" stroke="#666" stroke-width="0.7"/>
<line x1="109.3" y1="192.4" x2="109.3" y2="193.7" stroke="#666" stroke-width="0.7"/>
<line x1="126.87" y1="355.1" x2="126.87" y2="352.9" stroke="#666" stroke-width="0.7"/>
<line x1="126.87" y1="192.4" x2="126.87" y2="194.6" stroke="#666" stroke-width="0.7"/>
<line x1="144.43" y1="355.1" x2="144.43" y2="353.8" stroke="#666" stroke-width="0.7"/>
<line x1="144.43" y1="192.4" x2="144.43" y2="193.7" stroke="#666" stroke-width="0.7"/>
<line x1="162" y1="355.1" x2="162" y2="352.9" stroke="#666" stroke-width="0.7"/>
<line x1="162" y1="192.4" x2="162" y2="194.6" stroke="#666" stroke-width="0.7"/>
<line x1="179.57" y1="355.1" x2="179.57" y2="353.8" stroke="#666" stroke-width="0.7"/>
<line x1="179.57" y1="192.4" x2="179.57" y2="193.7" stroke="#666" stroke-width="0.7"/>
<line x1="197.13" y1="355.1" x2="197.13" y2="352.9" stroke="#666" stroke-width="0.7"/>
<line x1="197.13" y1="192.4" x2="197.13" y2="194.6" stroke="#666" stroke-width="0.7"/>
<line x1="214.7" y1="355.1" x2="214.7" y2="353.8" stroke="#666" stroke-width="0.7"/>
<line x1="214.7" y1="192.4" x2="214.7" y2="193.7" stroke="#666" stroke-width="0.7"/>
<line x1="232.27" y1="355.1" x2="232.27" y2="352.9" stroke="#666" stroke-width="0.7"/>
<line x1="232.27" y1="192.4" x2="232.27" y2="194.6" stroke="#666" stroke-width="0.7"/>
<line x1="249.83" y1="355.1" x2="249.83" y2="353.8" stroke="#666" stroke-width="0.7"/>
<line x1="249.83" y1="192.4" x2="249.83" y2="193.7" stroke="#666" stroke-width="0.7"/>
<line x1="267.4" y1="355.1" x2="267.4" y2="352.9" stroke="#666" stroke-width="0.7"/>
<line x1="267.4" y1="192.4" x2="267.4" y2="194.6" stroke="#666" stroke-width="0.7"/>
<text x="52.3" y="357.6" text-anchor="end" font-size="8.3" font-weight="bold" fill="#000" stroke="#000" stroke-width="0.15">0</text>
<text x="52.3" y="325.06" text-anchor="end" font-size="8.3" font-weight="bold" fill="#000" stroke="#000" stroke-width="0.15">50</text>
<text x="52.3" y="292.52" text-anchor="end" font-size="8.3" font-weight="bold" fill="#000" stroke="#000" stroke-width="0.15">100</text>
<text x="52.3" y="259.98" text-anchor="end" font-size="8.3" font-weight="bold" fill="#000" stroke="#000" stroke-width="0.15">150</text>
<text x="52.3" y="227.44" text-anchor="end" font-size="8.3" font-weight="bold" fill="#000" stroke="#000" stroke-width="0.15">200</text>
<text x="52.3" y="194.9" text-anchor="end" font-size="8.3" font-weight="bold" fill="#000" stroke="#000" stroke-width="0.15">250</text>
<text x="56.6" y="365.6" text-anchor="middle" font-size="8.3" font-weight="bold" fill="#000" stroke="#000" stroke-width="0.15">500</text>
<text x="91.73" y="365.6" text-anchor="middle" font-size="8.3" font-weight="bold" fill="#000" stroke="#000" stroke-width="0.15">550</text>
<text x="126.87" y="365.6" text-anchor="middle" font-size="8.3" font-weight="bold" fill="#000" stroke="#000" stroke-width="0.15">600</text>
<text x="162" y="365.6" text-anchor="middle" font-size="8.3" font-weight="bold" fill="#000" stroke="#000" stroke-width="0.15">650</text>
<text x="197.13" y="365.6" text-anchor="middle" font-size="8.3" font-weight="bold" fill="#000" stroke="#000" stroke-width="0.15">700</text>
<text x="232.27" y="365.6" text-anchor="middle" font-size="8.3" font-weight="bold" fill="#000" stroke="#000" stroke-width="0.15">750</text>
<text x="267.4" y="365.6" text-anchor="middle" font-size="8.3" font-weight="bold" fill="#000" stroke="#000" stroke-width="0.15">800</text>
<text x="111.3" y="380.8" font-size="12.3" font-weight="bold" fill="#000" textLength="100.5" lengthAdjust="spacingAndGlyphs">Wavelength (nm)</text>
<text transform="translate(32.3,271.8) rotate(-90)" text-anchor="middle" font-size="12.3" font-weight="bold" fill="#000" textLength="96" lengthAdjust="spacingAndGlyphs">Raw signal (a.u.)</text>
<text x="5.8" y="188.7" font-size="12.1" font-weight="bold" fill="#000">(d)</text>
<rect x="145.7" y="195.8" width="115.2" height="21.6" fill="#fff" stroke="#777" stroke-width="0.9"/>
<line x1="146.8" y1="201.1" x2="167" y2="201.1" stroke="#5a5a5a" stroke-width="1.1"/>
<line x1="146.8" y1="211.6" x2="167" y2="211.6" stroke="#3a90ea" stroke-width="1.8"/>
<text x="169.2" y="204.6" font-size="8.6" fill="#111" textLength="89.6" lengthAdjust="spacing">Broadband light source</text>
<text x="169.2" y="214.7" font-size="8.6" fill="#111" textLength="59.6" lengthAdjust="spacing">Methylene Blue</text>
<line x1="364.69" y1="189.9" x2="364.69" y2="352.1" stroke="#d4d4d4" stroke-width="0.6" stroke-dasharray="0.8 1.0"/>
<line x1="389.77" y1="189.9" x2="389.77" y2="352.1" stroke="#d4d4d4" stroke-width="0.6" stroke-dasharray="0.8 1.0"/>
<line x1="414.86" y1="189.9" x2="414.86" y2="352.1" stroke="#d4d4d4" stroke-width="0.6" stroke-dasharray="0.8 1.0"/>
<line x1="439.95" y1="189.9" x2="439.95" y2="352.1" stroke="#d4d4d4" stroke-width="0.6" stroke-dasharray="0.8 1.0"/>
<line x1="465.04" y1="189.9" x2="465.04" y2="352.1" stroke="#d4d4d4" stroke-width="0.6" stroke-dasharray="0.8 1.0"/>
<line x1="490.12" y1="189.9" x2="490.12" y2="352.1" stroke="#d4d4d4" stroke-width="0.6" stroke-dasharray="0.8 1.0"/>
<line x1="515.21" y1="189.9" x2="515.21" y2="352.1" stroke="#d4d4d4" stroke-width="0.6" stroke-dasharray="0.8 1.0"/>
<polyline points="339.6,341.9 344.4,339.7 352.5,333.2 360.6,328.9 366,325.1 371.4,318.9 376.8,312.2 382.2,304.1 386.3,298.1 390.4,293.2 393,289.6 397,284.4 402.5,282.4 405.8,278.4 411.5,273.9 417.3,262.9 423,249.9 428.8,235.5 433.1,222.6 436,211 438.2,202.5 439.6,197.4 441,196.4 443.5,196.1 446.5,196.1 448.6,196.6 449.6,199 450.6,205.5 451.6,213.1 453.1,220.8 454.7,230.1 456.2,239.4 457.7,249 459.3,258.5 460.8,267.8 462.3,277 463.9,286.3 465.4,294 467,301 468.4,306.9 470,314.5 471.7,321.5 474.2,328.4 476.7,333.5 480,338.5 483.4,341.8 486.7,346.4 490,348.9 491.5,350.6 496,351.8 503,350.5 510,349.6 518,350.6 525,350.2 533,350.8 540.3,350.2" fill="none" stroke="#5c5c5c" stroke-width="1.25" stroke-linejoin="round"/>
<polyline points="339.6,342.3 344.4,340.1 352.5,333.6 360.6,329.3 366,325.5 371.4,319.3 376.8,312.6 382.2,304.5 386.3,298.5 390.4,293.2 393,289.6 397,286.6 402.5,284.6 405.8,280.6 411.5,273.9 417.3,262.9 423,249.9 428.8,235.5 433.1,222.6 436,211 438.2,202.5 439.6,197.4 441,196.4 443.5,196.1 446.5,196.1 448.6,196.6 449.6,199 450.6,205.5 451.6,213.1 453.1,220.8 454.7,230.1 456.2,239.4 457.7,249 459.3,258.5 460.8,267.8 462.3,277 463.9,286.3 465.4,294 467,301 468.4,306.9 470,314.5 471.7,321.5 474.2,328.4 476.7,333.5 480,338.5 483.4,341.8 486.7,345.2 490,347.7 493,349.8 500,350.4 510,349.9 520,350.3 530,349.7 540.3,349.5" fill="none" stroke="#c27ae6" stroke-width="1.25" stroke-linejoin="round"/>
<polyline points="339.6,341.9 344.4,339.7 352.5,334.2 360.6,329.9 366,326.1 371.4,319.9 376.8,313.2 382.2,305.1 386.3,299.1 390.4,294.2 393,290.6 397,289.4 402.5,287.4 405.8,283.4 411.5,276.7 417.3,265.7 424.3,249.9 430.1,235.5 434.4,222.6 437.3,211 439.5,202.5 440.9,197.4 442.3,196.4 444.8,196.1 447.8,196.1 449.9,196.6 450.9,199 451.9,205.5 452.9,213.1 454.4,220.8 456,230.1 457.5,239.4 459,249 460.6,258.5 462.1,267.8 463.6,277 465.2,286.3 466.7,294 468.3,301 469.7,306.9 470,314.5 471.7,321.5 474.2,325.4 476.7,330.5 480,335.5 483.4,338.8 486.7,342.2 490,347.7 493,349.3 497.7,350.1 506.6,350.1 515.4,349.2 524.3,348.7 533.2,348.4 540.3,346.4" fill="none" stroke="#f0506a" stroke-width="1.25" stroke-linejoin="round"/>
<polyline points="339.6,341.1 344.4,338.9 352.5,332.4 360.6,328.1 366,324.3 371.4,318.1 376.8,311.4 382.2,303.3 386.3,297.3 390.4,293.2 393,289.6 397,286.6 402.5,284.6 405.8,280.6 411.5,273.9 417.3,262.9 422.4,249.9 428.2,235.5 432.5,221.6 435.4,210 437.6,201.5 439,196.4 440.4,195.4 442.9,195.1 445.9,196.1 448,196.6 449,199 450,205.5 451,213.1 452.5,220.8 454.1,230.1 455.6,239.4 457.1,249 458.7,258.5 460.2,267.8 461.7,277 463.3,286.3 464.8,294 466.4,301 467.8,306.9 470,314.5 471.7,321.5 474.2,328.4 476.7,333.5 480,338.5 483.4,341.8 486.7,345.2 490,347.7 492.4,348.4 497.7,349.2 503,348.4 506.6,348.4 510.1,346.6 512.8,348 515.4,347.1 518.1,348.4 522.5,345.3 525.2,347.5 527.8,349.2 531.4,348.4 533.2,347.5 536.7,346.6 540.3,345.7" fill="none" stroke="#3b8fe8" stroke-width="1.25" stroke-linejoin="round"/>
<polyline points="339.6,342.7 344.4,340.5 352.5,334 360.6,329.7 366,325.9 371.4,319.7 376.8,313 382.2,304.9 386.3,298.9 390.4,293.2 393,289.6 397,286.6 402.5,284.6 405.8,280.6 411.5,273.9 417.3,262.9 423,249.9 428.8,235.5 433.1,222.6 436,211 438.2,202.5 439.6,197.4 441,196.4 443.5,196.1 446.5,196.1 448.6,196.6 449.6,199 450.6,205.5 451.6,213.1 453.1,220.8 454.7,230.1 456.2,239.4 457.7,249 459.3,258.5 460.8,267.8 462.3,277 463.9,286.3 465.4,294 467,301 468.4,306.9 470,314.5 471.7,321.5 474.2,328.4 476.7,333.5 480,340 483.4,343.3 486.7,346.7 490,349.2 492,350.3 497.7,351 505,350.6 515.4,350.5 524,350.9 533.2,351 540.3,350.1" fill="none" stroke="#2fb070" stroke-width="1.25" stroke-linejoin="round"/>
<line x1="339.6" y1="189.3" x2="339.6" y2="352.7" stroke="#a2a2a2" stroke-width="1.9"/>
<line x1="540.3" y1="189.3" x2="540.3" y2="352.7" stroke="#a2a2a2" stroke-width="1.9"/>
<line x1="338.7" y1="189.9" x2="541.2" y2="189.9" stroke="#6e6e6e" stroke-width="1.2"/>
<line x1="338.7" y1="352.1" x2="541.2" y2="352.1" stroke="#6e6e6e" stroke-width="1.2"/>
<line x1="339.6" y1="349.3" x2="342.6" y2="349.3" stroke="#666" stroke-width="0.7"/>
<line x1="540.3" y1="349.3" x2="537.3" y2="349.3" stroke="#666" stroke-width="0.7"/>
<line x1="339.6" y1="334.79" x2="341.2" y2="334.79" stroke="#666" stroke-width="0.7"/>
<line x1="540.3" y1="334.79" x2="538.7" y2="334.79" stroke="#666" stroke-width="0.7"/>
<line x1="339.6" y1="320.28" x2="342.6" y2="320.28" stroke="#666" stroke-width="0.7"/>
<line x1="540.3" y1="320.28" x2="537.3" y2="320.28" stroke="#666" stroke-width="0.7"/>
<line x1="339.6" y1="305.77" x2="341.2" y2="305.77" stroke="#666" stroke-width="0.7"/>
<line x1="540.3" y1="305.77" x2="538.7" y2="305.77" stroke="#666" stroke-width="0.7"/>
<line x1="339.6" y1="291.26" x2="342.6" y2="291.26" stroke="#666" stroke-width="0.7"/>
<line x1="540.3" y1="291.26" x2="537.3" y2="291.26" stroke="#666" stroke-width="0.7"/>
<line x1="339.6" y1="276.75" x2="341.2" y2="276.75" stroke="#666" stroke-width="0.7"/>
<line x1="540.3" y1="276.75" x2="538.7" y2="276.75" stroke="#666" stroke-width="0.7"/>
<line x1="339.6" y1="262.24" x2="342.6" y2="262.24" stroke="#666" stroke-width="0.7"/>
<line x1="540.3" y1="262.24" x2="537.3" y2="262.24" stroke="#666" stroke-width="0.7"/>
<line x1="339.6" y1="247.73" x2="341.2" y2="247.73" stroke="#666" stroke-width="0.7"/>
<line x1="540.3" y1="247.73" x2="538.7" y2="247.73" stroke="#666" stroke-width="0.7"/>
<line x1="339.6" y1="233.22" x2="342.6" y2="233.22" stroke="#666" stroke-width="0.7"/>
<line x1="540.3" y1="233.22" x2="537.3" y2="233.22" stroke="#666" stroke-width="0.7"/>
<line x1="339.6" y1="218.71" x2="341.2" y2="218.71" stroke="#666" stroke-width="0.7"/>
<line x1="540.3" y1="218.71" x2="538.7" y2="218.71" stroke="#666" stroke-width="0.7"/>
<line x1="339.6" y1="204.2" x2="342.6" y2="204.2" stroke="#666" stroke-width="0.7"/>
<line x1="540.3" y1="204.2" x2="537.3" y2="204.2" stroke="#666" stroke-width="0.7"/>
<line x1="339.6" y1="352.1" x2="339.6" y2="349.1" stroke="#666" stroke-width="0.7"/>
<line x1="339.6" y1="189.9" x2="339.6" y2="192.9" stroke="#666" stroke-width="0.7"/>
<line x1="364.69" y1="352.1" x2="364.69" y2="350.5" stroke="#666" stroke-width="0.7"/>
<line x1="364.69" y1="189.9" x2="364.69" y2="191.5" stroke="#666" stroke-width="0.7"/>
<line x1="389.77" y1="352.1" x2="389.77" y2="349.1" stroke="#666" stroke-width="0.7"/>
<line x1="389.77" y1="189.9" x2="389.77" y2="192.9" stroke="#666" stroke-width="0.7"/>
<line x1="414.86" y1="352.1" x2="414.86" y2="350.5" stroke="#666" stroke-width="0.7"/>
<line x1="414.86" y1="189.9" x2="414.86" y2="191.5" stroke="#666" stroke-width="0.7"/>
<line x1="439.95" y1="352.1" x2="439.95" y2="349.1" stroke="#666" stroke-width="0.7"/>
<line x1="439.95" y1="189.9" x2="439.95" y2="192.9" stroke="#666" stroke-width="0.7"/>
<line x1="465.04" y1="352.1" x2="465.04" y2="350.5" stroke="#666" stroke-width="0.7"/>
<line x1="465.04" y1="189.9" x2="465.04" y2="191.5" stroke="#666" stroke-width="0.7"/>
<line x1="490.12" y1="352.1" x2="490.12" y2="349.1" stroke="#666" stroke-width="0.7"/>
<line x1="490.12" y1="189.9" x2="490.12" y2="192.9" stroke="#666" stroke-width="0.7"/>
<line x1="515.21" y1="352.1" x2="515.21" y2="350.5" stroke="#666" stroke-width="0.7"/>
<line x1="515.21" y1="189.9" x2="515.21" y2="191.5" stroke="#666" stroke-width="0.7"/>
<line x1="540.3" y1="352.1" x2="540.3" y2="349.1" stroke="#666" stroke-width="0.7"/>
<line x1="540.3" y1="189.9" x2="540.3" y2="192.9" stroke="#666" stroke-width="0.7"/>
<text x="335.8" y="352.4" text-anchor="end" font-size="8.5" font-weight="bold" fill="#000" stroke="#000" stroke-width="0.15">0.0</text>
<text x="335.8" y="323.38" text-anchor="end" font-size="8.5" font-weight="bold" fill="#000" stroke="#000" stroke-width="0.15">0.1</text>
<text x="335.8" y="294.36" text-anchor="end" font-size="8.5" font-weight="bold" fill="#000" stroke="#000" stroke-width="0.15">0.2</text>
<text x="335.8" y="265.34" text-anchor="end" font-size="8.5" font-weight="bold" fill="#000" stroke="#000" stroke-width="0.15">0.3</text>
<text x="335.8" y="236.32" text-anchor="end" font-size="8.5" font-weight="bold" fill="#000" stroke="#000" stroke-width="0.15">0.4</text>
<text x="335.8" y="207.3" text-anchor="end" font-size="8.5" font-weight="bold" fill="#000" stroke="#000" stroke-width="0.15">0.5</text>
<text x="339.6" y="362.6" text-anchor="middle" font-size="8.3" font-weight="bold" fill="#000" stroke="#000" stroke-width="0.15">550</text>
<text x="389.77" y="362.6" text-anchor="middle" font-size="8.3" font-weight="bold" fill="#000" stroke="#000" stroke-width="0.15">600</text>
<text x="439.95" y="362.6" text-anchor="middle" font-size="8.3" font-weight="bold" fill="#000" stroke="#000" stroke-width="0.15">650</text>
<text x="490.12" y="362.6" text-anchor="middle" font-size="8.3" font-weight="bold" fill="#000" stroke="#000" stroke-width="0.15">700</text>
<text x="540.3" y="362.6" text-anchor="middle" font-size="8.3" font-weight="bold" fill="#000" stroke="#000" stroke-width="0.15">750</text>
<text x="391.3" y="379.6" font-size="12.1" font-weight="bold" fill="#000" textLength="97.1" lengthAdjust="spacingAndGlyphs">Wavelength (nm)</text>
<text transform="translate(319.6,270.2) rotate(-90)" text-anchor="middle" font-size="12.3" font-weight="bold" fill="#000" textLength="103.6" lengthAdjust="spacingAndGlyphs">Absorbance (a.u.)</text>
<text x="303.5" y="188.2" font-size="12.1" font-weight="bold" fill="#000">(e)</text>
<rect x="488.6" y="194.7" width="33.6" height="62.8" fill="#fff" stroke="#777" stroke-width="0.9"/>
<line x1="489.9" y1="201.5" x2="511.9" y2="201.5" stroke="#5c5c5c" stroke-width="1.6"/>
<text x="514.4" y="205.1" font-size="10.8" fill="#111">a</text>
<line x1="489.9" y1="213.85" x2="511.9" y2="213.85" stroke="#f0506a" stroke-width="1.6"/>
<text x="514.4" y="217.45" font-size="10.8" fill="#111">b</text>
<line x1="489.9" y1="226.2" x2="511.9" y2="226.2" stroke="#3b8fe8" stroke-width="1.6"/>
<text x="514.4" y="229.8" font-size="10.8" fill="#111">c</text>
<line x1="489.9" y1="238.55" x2="511.9" y2="238.55" stroke="#2fb070" stroke-width="1.6"/>
<text x="514.4" y="242.15" font-size="10.8" fill="#111">d</text>
<line x1="489.9" y1="250.9" x2="511.9" y2="250.9" stroke="#c27ae6" stroke-width="1.6"/>
<text x="514.4" y="254.5" font-size="10.8" fill="#111">e</text>
</svg></body></html>
